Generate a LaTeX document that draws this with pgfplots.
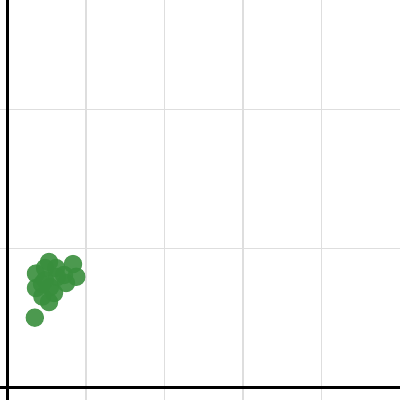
\documentclass[border=0pt]{standalone}
\usepackage{pgfplots}
\pgfplotsset{compat=1.18}
\definecolor{dotgreen}{RGB}{56,142,60}
\definecolor{gridgray}{RGB}{222,222,222}
\begin{document}
\begin{tikzpicture}
\useasboundingbox (0,0) rectangle (400pt,400pt);
\begin{axis}[
    at={(0,0)}, anchor=south west,
    scale only axis,
    width=400pt, height=400pt,
    xmin=-0.0916, xmax=4.997,
    ymin=-0.0914, ymax=2.786,
    axis line style={draw=none},
    xtick={1,2,3,4}, ytick={1,2},
    xticklabels={}, yticklabels={},
    major tick length=0pt,
    grid=major,
    grid style={gridgray, line width=1.4pt},
    extra x ticks={0}, extra y ticks={0},
    extra x tick labels={}, extra y tick labels={},
    extra tick style={grid style={black, line width=3pt}},
    clip mode=individual,
]
% scatter points
\addplot[only marks, mark=*, mark size=9.2pt,
    mark options={fill=dotgreen, draw opacity=0, fill opacity=0.9}]
coordinates {
(0.351,0.501) (0.532,0.901) (0.837,0.886) (0.879,0.795) (0.366,0.818)
(0.366,0.714) (0.532,0.613) (0.447,0.653) (0.595,0.678) (0.634,0.793)
(0.723,0.808) (0.748,0.750) (0.481,0.771) (0.545,0.721) (0.443,0.743)
(0.621,0.858) (0.481,0.858)
};
\end{axis}
\end{tikzpicture}
\end{document}
